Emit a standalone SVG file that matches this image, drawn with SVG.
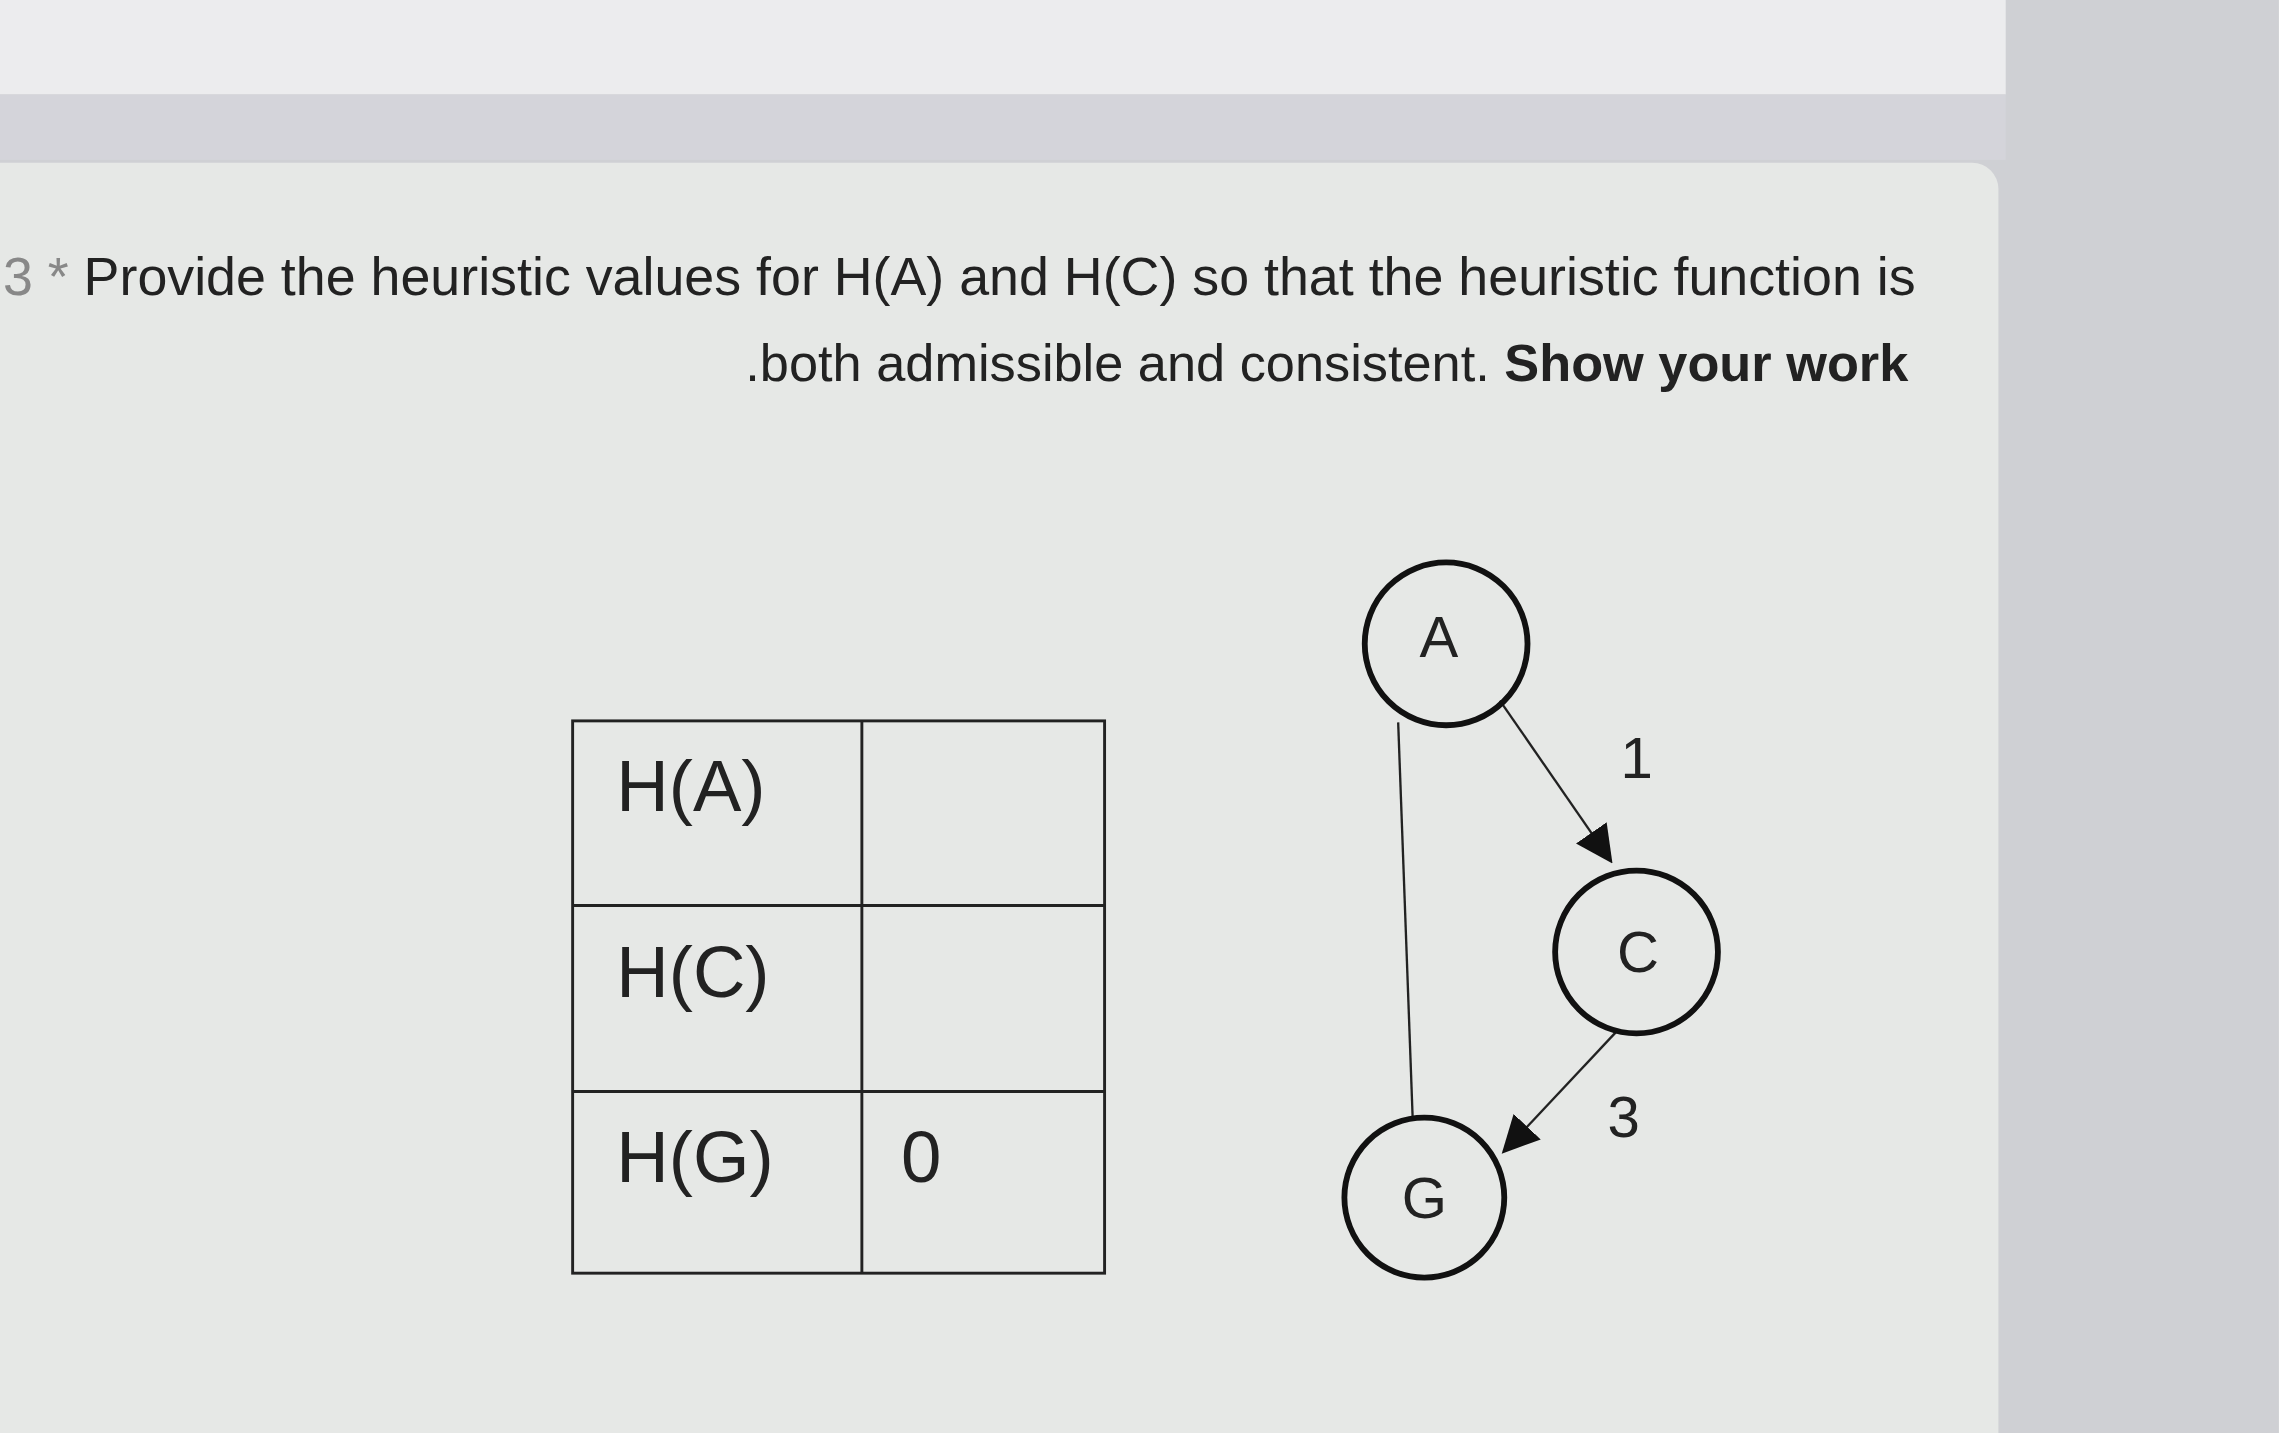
<svg xmlns="http://www.w3.org/2000/svg" width="2279" height="1433" viewBox="0 0 2279 1433">
<defs>
<style>
.t{font-family:"Liberation Sans",Arial,sans-serif;fill:#222}
.n{fill:none;stroke:#111;stroke-width:4}
.e{stroke:#222;stroke-width:1.6;fill:none}
.c{stroke:#222;stroke-width:2;fill:none}
</style>
<marker id="ah" viewBox="0 0 10 10" refX="9" refY="5" markerWidth="16" markerHeight="16" markerUnits="strokeWidth" orient="auto"><path d="M0,0 L10,5 L0,10 z" fill="#111"/></marker>
</defs>
<g transform="scale(1.4534)">
<rect width="1568" height="986" fill="#cfd0d4"/>
<rect x="0" y="0" width="1380" height="65" fill="#ececee"/>
<rect x="0" y="65" width="1380" height="45" fill="#d4d4da"/>
<rect x="-20" y="112" width="1395" height="900" rx="18" fill="#e6e8e6"/>
<text class="t" x="2" y="203" font-size="37" textLength="1316" lengthAdjust="spacingAndGlyphs"><tspan fill="#888">3 * </tspan>Provide the heuristic values for H(A) and H(C) so that the heuristic function is</text>
<text class="t" x="1313" y="262" font-size="36" text-anchor="end">.both admissible and consistent. <tspan font-weight="bold">Show your work</tspan></text>
<g id="table">
<rect x="394" y="496" width="366" height="380" class="c"/>
<line x1="593" y1="496" x2="593" y2="876" class="c"/>
<line x1="394" y1="623" x2="760" y2="623" class="c"/>
<line x1="394" y1="751" x2="760" y2="751" class="c"/>
<text class="t" x="424" y="558" font-size="50">H(A)</text>
<text class="t" x="424" y="686" font-size="50">H(C)</text>
<text class="t" x="424" y="813" font-size="50">H(G)</text>
<text class="t" x="620" y="813" font-size="50">0</text>
</g>
<g id="connectors">
<line x1="962" y1="497" x2="972" y2="770" class="e"/>
<line x1="1032" y1="482" x2="1108" y2="592" class="e" marker-end="url(#ah)"/>
<line x1="1112" y1="710" x2="1035" y2="792" class="e" marker-end="url(#ah)"/>
<text class="t" x="1115" y="535" font-size="40">1</text>
<text class="t" x="1106" y="782" font-size="40">3</text>
</g>
<g id="node-A"><circle cx="995" cy="443" r="56" class="n"/><text class="t" x="990" y="452" font-size="40" text-anchor="middle">A</text></g>
<g id="node-C"><circle cx="1126" cy="655" r="56" class="n"/><text class="t" x="1127" y="669" font-size="40" text-anchor="middle">C</text></g>
<g id="node-G"><circle cx="980" cy="824" r="55" class="n"/><text class="t" x="980" y="838" font-size="40" text-anchor="middle">G</text></g>
</g>
</svg>
